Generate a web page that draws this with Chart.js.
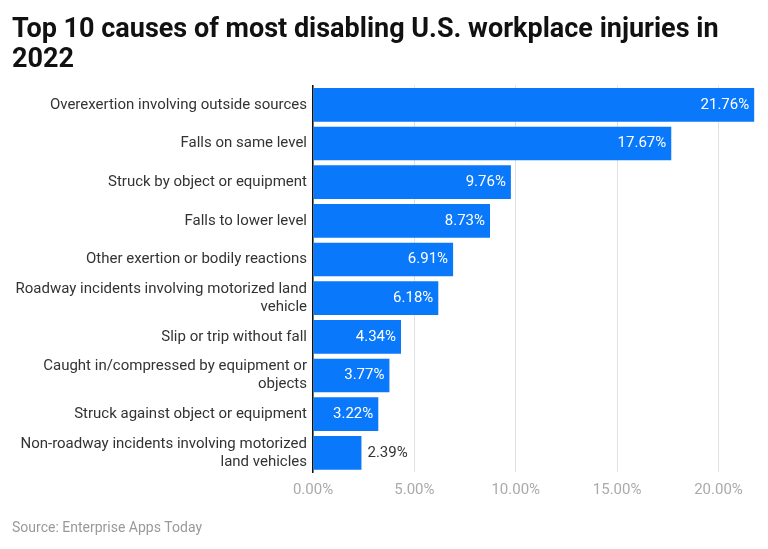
<!DOCTYPE html>
<html>
<head>
<meta charset="utf-8">
<script src="https://cdn.jsdelivr.net/npm/chart.js@4"></script>
<style>
  html, body { margin: 0; padding: 0; background: #fff; }
  #wrap { width: 768px; height: 549px; position: relative; }
</style>
</head>
<body>
<div id="wrap"><canvas id="chart"></canvas></div>
<script>
// chart data
const causes = [
  ["Overexertion involving outside sources"],
  ["Falls on same level"],
  ["Struck by object or equipment"],
  ["Falls to lower level"],
  ["Other exertion or bodily reactions"],
  ["Roadway incidents involving motorized land", "vehicle"],
  ["Slip or trip without fall"],
  ["Caught in/compressed by equipment or", "objects"],
  ["Struck against object or equipment"],
  ["Non-roadway incidents involving motorized", "land vehicles"]
];
const shares = [21.76, 17.67, 9.76, 8.73, 6.91, 6.18, 4.34, 3.77, 3.22, 2.39];
const xTicks = [0, 5, 10, 15, 20];

const FONT = "Roboto, 'Liberation Sans', sans-serif";

// value labels: white inside bar end, dark outside when the bar is short
const valueLabels = {
  id: "valueLabels",
  afterDatasetsDraw(chart){
    let ctx = chart.ctx;
    let meta = chart.getDatasetMeta(0);
    ctx.save();
    ctx.font = "15px " + FONT;
    ctx.textBaseline = "middle";
    meta.data.forEach((bar, i) => {
      let text = shares[i].toFixed(2) + "%";
      let w = ctx.measureText(text).width;
      let barW = bar.x - bar.base;
      if(barW > w + 12){
        ctx.fillStyle = "#ffffff";
        ctx.textAlign = "right";
        ctx.fillText(text, bar.x - 5, bar.y);
      } else {
        ctx.fillStyle = "#333333";
        ctx.textAlign = "left";
        ctx.fillText(text, bar.x + 6, bar.y);
      }
    });
    ctx.restore();
  }
};

new Chart(document.getElementById("chart"), {
  type: "bar",
  data: {
    labels: causes,
    datasets: [{
      data: shares,
      backgroundColor: "#0a78fb",
      borderWidth: 0,
      categoryPercentage: 0.87,
      barPercentage: 1.0
    }]
  },
  options: {
    indexAxis: "y",
    responsive: true,
    maintainAspectRatio: false,
    animation: false,
    layout: { padding: { left: 12, right: 13, top: 0, bottom: 4 } },
    plugins: {
      legend: { display: false },
      tooltip: { enabled: false },
      title: {
        display: true,
        text: ["Top 10 causes of most disabling U.S. workplace injuries in", "2022"],
        align: "start",
        color: "#111111",
        font: { family: FONT, size: 27, weight: "bold", lineHeight: 1.12 },
        padding: { top: 15, bottom: 10 }
      },
      subtitle: {
        display: true,
        text: "Source: Enterprise Apps Today",
        position: "bottom",
        align: "start",
        color: "#999999",
        font: { family: FONT, size: 14 },
        padding: { top: 12, bottom: 8 }
      }
    },
    scales: {
      x: {
        min: 0,
        max: 21.8,
        afterBuildTicks(scale){
          scale.ticks = xTicks.map(v => ({ value: v }));
        },
        grid: { color: "#e0e0e0", drawTicks: false },
        border: { display: false },
        ticks: {
          color: "#aaaaaa",
          padding: 9,
          font: { family: FONT, size: 15 },
          callback: (v) => v.toFixed(2) + "%"
        }
      },
      y: {
        afterFit(scale){ scale.width = 301; },
        grid: { display: false, drawTicks: false },
        border: { display: true, color: "#111111", width: 1.5 },
        ticks: {
          autoSkip: false,
          color: "#333333",
          padding: 6,
          font: { family: FONT, size: 15, lineHeight: 1.2 }
        }
      }
    }
  },
  plugins: [valueLabels]
});
</script>
</body>
</html>
